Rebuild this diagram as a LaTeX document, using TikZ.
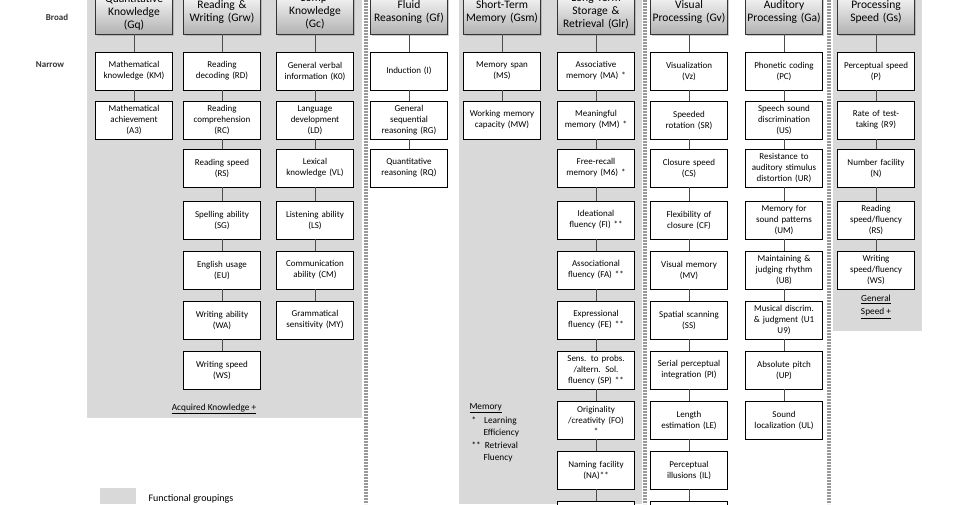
\documentclass[tikz,border=0pt]{standalone}
\usepackage{fontspec}
\setmainfont{Carlito}
\usetikzlibrary{shadows}
\definecolor{grp}{HTML}{D9D9D9}
\begin{document}
\begin{tikzpicture}[x=1pt,y=-1pt,
  nbox/.style={draw=black,fill=white,line width=0.7pt,minimum width=77pt,minimum height=38pt,text width=76pt,align=center,inner sep=0.5pt,font=\fontsize{9}{11}\selectfont},
  bbox/.style={draw=black!80,top color=white,bottom color=black!30,line width=0.7pt,minimum width=77pt,minimum height=44pt,text width=75pt,align=center,inner sep=1pt,font=\fontsize{11.5}{13}\selectfont,drop shadow={shadow xshift=1pt,shadow yshift=-1.5pt,opacity=0.4}},
  conn/.style={draw=black!70,line width=1pt},
  sep/.style={draw=black!40,line width=3.5pt,dash pattern=on 1.8pt off 1.2pt},
  lbl/.style={font=\fontsize{9}{10}\selectfont\bfseries,text=black!80}]
\useasboundingbox (0,0) rectangle (960,504);
\clip (0,0) rectangle (960,504);
\fill[white] (0,0) rectangle (960,504);
% groupings
\fill[grp] (87,0) rectangle (362,418);
\fill[grp] (459,0) rectangle (642,504);
\fill[grp] (833,0) rectangle (922,331);
\draw[sep] (366,0) -- (366,504);
\draw[sep] (645,0) -- (645,504);
\draw[sep] (829,0) -- (829,504);
\node[lbl] (broadlbl) at (57,17) {Broad};
\node[lbl] (narrowlbl) at (50,65) {Narrow};
\foreach \c/\x/\b/\items in {
 gq/134/{Quantitative\\Knowledge\\(Gq)}/{{Mathematical\\knowledge (KM)},{Mathematical\\achievement\\(A3)}},
 grw/222/{Reading \&\\Writing (Grw)}/{{Reading\\decoding (RD)},{Reading\\comprehension\\(RC)},{Reading speed\\(RS)},{Spelling ability\\(SG)},{English usage\\(EU)},{Writing ability\\(WA)},{Writing speed\\(WS)}},
 gc/315/{Comp-\\Knowledge\\(Gc)}/{{General verbal\\information (K0)},{Language\\development\\(LD)},{Lexical\\knowledge (VL)},{Listening ability\\(LS)},{Communication\\ability (CM)},{Grammatical\\sensitivity (MY)}},
 gf/409/{Fluid\\Reasoning (Gf)}/{{Induction (I)},{General\\sequential\\reasoning (RG)},{Quantitative\\reasoning (RQ)}},
 gsm/502/{Short-Term\\Memory (Gsm)}/{{Memory span\\(MS)},{Working memory\\capacity (MW)}},
 glr/596/{Long-Term\\Storage \&\\Retrieval (Glr)}/{{Associative\\memory (MA) *},{Meaningful\\memory (MM) *},{Free-recall\\memory (M6) *},{Ideational\\fluency (FI) **},{Associational\\fluency (FA) **},{Expressional\\fluency (FE) **},{Sens. to probs.\\/altern. Sol.\\fluency (SP) **},{Originality\\/creativity (FO)\\**},{Naming facility\\(NA)**},{}},
 gv/689/{Visual\\Processing (Gv)}/{{Visualization\\(Vz)},{Speeded\\rotation (SR)},{Closure speed\\(CS)},{Flexibility of\\closure (CF)},{Visual memory\\(MV)},{Spatial scanning\\(SS)},{Serial perceptual\\integration (PI)},{Length\\estimation (LE)},{Perceptual\\illusions (IL)},{}},
 ga/784/{Auditory\\Processing (Ga)}/{{Phonetic coding\\(PC)},{Speech sound\\discrimination\\(US)},{Resistance to\\auditory stimulus\\distortion (UR)},{Memory for\\sound patterns\\(UM)},{Maintaining \&\\judging rhythm\\(U8)},{Musical discrim.\\\& judgment (U1\\U9)},{Absolute pitch\\(UP)},{Sound\\localization (UL)}},
 gs/876/{Processing\\Speed (Gs)}/{{Perceptual speed\\(P)},{Rate of test-\\taking (R9)},{Number facility\\(N)},{Reading\\speed/fluency\\(RS)},{Writing\\speed/fluency\\(WS)}}} {
  \node[bbox] (\c-0) at (\x,12) {\b};
  \foreach \t [count=\i] in \items {
    \pgfmathsetmacro\yy{{0,71,120,168,220,270,320,370,420,470,520}[\i]}
    \pgfmathtruncatemacro\prev{\i-1}
    \node[nbox] (\c-\i) at (\x,\yy) {\t};
    \draw[conn] (\c-\prev.south) -- (\c-\i.north);
  }
}
\node[font=\fontsize{9.3}{10}\selectfont] (ak) at (214,409) {\underline{Acquired Knowledge +}};
\node[font=\fontsize{9.3}{13}\selectfont,align=center] (gsp) at (876,307) {\underline{General}\\\underline{Speed +}};
\node[font=\fontsize{9.3}{10}\selectfont,anchor=west] (mem) at (466,408) {\underline{Memory}};
\node[font=\fontsize{9.3}{12.5}\selectfont,anchor=north west,align=left] (memnote) at (468,413) {*\hspace{8pt}Learning\\\hspace{12pt}Efficiency\\**\hspace{4pt}Retrieval\\\hspace{12pt}Fluency};
\fill[grp] (100,488) rectangle (136,504);
\node[font=\fontsize{10}{11}\selectfont,anchor=west] (leg) at (145,499) {Functional groupings};
\end{tikzpicture}
\end{document}
